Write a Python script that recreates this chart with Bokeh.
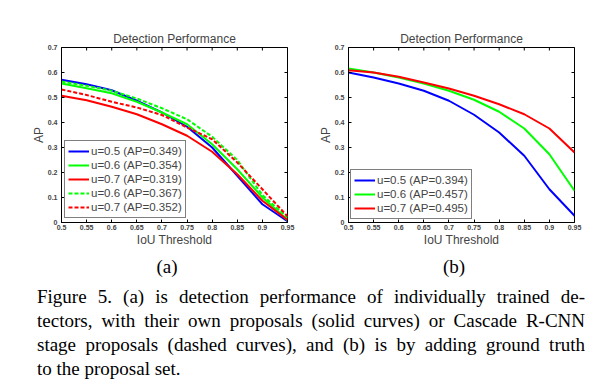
import math
from bokeh.plotting import figure
from bokeh.models import FixedTicker, Div
from bokeh.layouts import column, row
from bokeh.embed import file_html
from bokeh.resources import INLINE

# ---------------- data ----------------
iou = [0.5, 0.55, 0.6, 0.65, 0.7, 0.75, 0.8, 0.85, 0.9, 0.95]
xtick_labels = ["0.5", "0.55", "0.6", "0.65", "0.7", "0.75", "0.8", "0.85", "0.9", "0.95"]
yticks = [0, 0.1, 0.2, 0.3, 0.4, 0.5, 0.6, 0.7]
ytick_labels = ["0", "0.1", "0.2", "0.3", "0.4", "0.5", "0.6", "0.7"]

# (a) individually trained detectors
a_u05 = [0.571, 0.553, 0.529, 0.487, 0.440, 0.383, 0.300, 0.187, 0.073, 0.005]
a_u06 = [0.556, 0.537, 0.517, 0.483, 0.440, 0.393, 0.313, 0.213, 0.100, 0.010]
a_u07 = [0.507, 0.489, 0.463, 0.433, 0.393, 0.347, 0.283, 0.193, 0.087, 0.010]
a_u06_cascade = [0.564, 0.547, 0.527, 0.496, 0.457, 0.413, 0.343, 0.250, 0.110, 0.020]
a_u07_cascade = [0.532, 0.510, 0.483, 0.460, 0.430, 0.380, 0.333, 0.240, 0.133, 0.025]
a_labels = ["u=0.5 (AP=0.349)", "u=0.6 (AP=0.354)", "u=0.7 (AP=0.319)",
            "u=0.6 (AP=0.367)", "u=0.7 (AP=0.352)"]

# (b) with ground truth added to proposals
b_u05 = [0.600, 0.580, 0.556, 0.527, 0.487, 0.431, 0.360, 0.267, 0.133, 0.027]
b_u06 = [0.616, 0.600, 0.580, 0.556, 0.527, 0.491, 0.443, 0.376, 0.273, 0.127]
b_u07 = [0.609, 0.600, 0.583, 0.560, 0.536, 0.507, 0.473, 0.433, 0.376, 0.280]
b_labels = ["u=0.5 (AP=0.394)", "u=0.6 (AP=0.457)", "u=0.7 (AP=0.495)"]

panel_labels = ["(a)", "(b)"]
caption_lines = [
    "Figure 5. (a) is detection performance of individually trained de-",
    "tectors, with their own proposals (solid curves) or Cascade R-CNN",
    "stage proposals (dashed curves), and (b) is by adding ground truth",
    "to the proposal set.",
]

SANS = "Liberation Sans"
BLUE, GREEN, RED = "#0000ff", "#00ff00", "#ff0000"


def make_fig(border_left, border_right):
    p = figure(frame_width=226, frame_height=175,
               x_range=(iou[0], iou[-1]), y_range=(yticks[0], yticks[-1]),
               output_backend="svg", toolbar_location=None,
               min_border_left=border_left, min_border_right=border_right,
               min_border_top=47, min_border_bottom=28)
    p.title.text = "Detection Performance"
    p.title.text_font = SANS
    p.title.text_font_size = "12px"
    p.title.text_font_style = "normal"
    p.title.align = "center"
    p.title.standoff = 4
    p.grid.visible = False
    p.outline_line_color = "black"
    p.outline_line_width = 1
    p.background_fill_color = "white"
    p.border_fill_color = "white"

    for ax in (p.xaxis[0], p.yaxis[0]):
        ax.major_tick_in = 3
        ax.major_tick_out = 0
        ax.minor_tick_line_color = None
        ax.major_label_text_font = SANS
        ax.major_label_text_font_size = "7px"
        ax.major_label_text_font_style = "bold"
        ax.axis_label_text_font = SANS
        ax.axis_label_text_font_size = "12px"
        ax.axis_label_text_font_style = "normal"
        ax.axis_line_color = "black"
    p.xaxis.ticker = FixedTicker(ticks=iou)
    p.xaxis.major_label_overrides = dict(zip(iou, xtick_labels))
    p.yaxis.ticker = FixedTicker(ticks=yticks)
    p.yaxis.major_label_overrides = dict(zip(yticks, ytick_labels))
    p.xaxis.major_label_standoff = 2
    p.yaxis.major_label_standoff = 4
    p.xaxis.axis_label = "IoU Threshold"
    p.yaxis.axis_label = "AP"
    p.xaxis.axis_label_standoff = 0
    p.yaxis.axis_label_standoff = -1

    # inward tick marks on the top and right edges of the box (clipped to the frame)
    p.scatter(iou, [yticks[-1]] * len(iou), marker="dash", size=6, angle=math.pi / 2,
              line_color="black", line_width=1)
    p.scatter([iou[-1]] * len(yticks), yticks, marker="dash", size=6,
              line_color="black", line_width=1)
    return p


def style_legend(p, loc):
    lg = p.legend[0]
    lg.location = loc
    lg.margin = 0
    lg.padding = 3
    lg.spacing = 0
    lg.glyph_width = 21
    lg.glyph_height = 14
    lg.label_height = 14
    lg.label_standoff = 2
    lg.label_text_font = SANS
    lg.label_text_font_size = "11.5px"
    lg.border_line_color = "black"
    lg.border_line_width = 1.5
    lg.background_fill_color = "white"
    lg.background_fill_alpha = 1


pa = make_fig(61, 13)
pa.line(iou, a_u05, color=BLUE, line_width=2, legend_label=a_labels[0])
pa.line(iou, a_u06, color=GREEN, line_width=2, legend_label=a_labels[1])
pa.line(iou, a_u07, color=RED, line_width=2, legend_label=a_labels[2])
pa.line(iou, a_u06_cascade, color=GREEN, line_width=2, line_dash="4 2", legend_label=a_labels[3])
pa.line(iou, a_u07_cascade, color=RED, line_width=2, line_dash="4 2", legend_label=a_labels[4])
style_legend(pa, (3, 4))

pb = make_fig(48, 16)
pb.line(iou, b_u05, color=BLUE, line_width=2, legend_label=b_labels[0])
pb.line(iou, b_u06, color=GREEN, line_width=2, legend_label=b_labels[1])
pb.line(iou, b_u07, color=RED, line_width=2, legend_label=b_labels[2])
style_legend(pb, (2, 3))

line_html = ""
for i, ln in enumerate(caption_lines):
    last = "left" if i == len(caption_lines) - 1 else "justify"
    line_html += ('<div style="text-align:justify;text-align-last:%s;white-space:nowrap;">%s</div>'
                  % (last, ln))

html = (
    '<div style="position:relative;width:600px;height:136px;font-family:\'Liberation Serif\';'
    'color:#000;font-size:19px;line-height:24px;">'
    '<span style="position:absolute;left:167px;top:5px;transform:translateX(-50%%);">%s</span>'
    '<span style="position:absolute;left:454px;top:5px;transform:translateX(-50%%);">%s</span>'
    '<div style="position:absolute;left:37px;top:35px;width:548px;">%s</div>'
    '</div>' % (panel_labels[0], panel_labels[1], line_html)
)
cap = Div(text=html, width=600, height=136, margin=0)

layout = column(row(pa, pb, spacing=0), cap, spacing=0)
open("out.html", "w").write(file_html(layout, INLINE))
